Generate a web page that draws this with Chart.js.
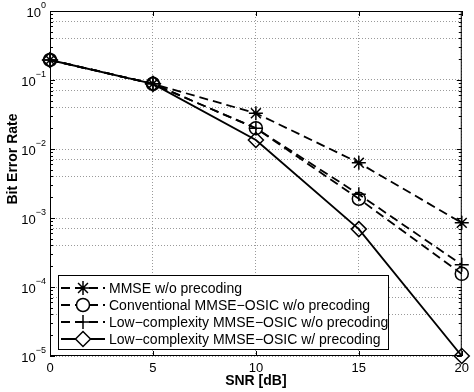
<!DOCTYPE html>
<html>
<head>
<meta charset="utf-8">
<script src="https://cdn.jsdelivr.net/npm/chart.js@4"></script>
<style>
  html, body { margin: 0; padding: 0; background: #fff; }
  #wrap { width: 474px; height: 392px; }
</style>
</head>
<body>
<div id="wrap"><canvas id="ber" width="474" height="392"></canvas></div>
<script>
// data (BER vs SNR)
const snr = [0, 5, 10, 15, 20];
const berMmse = [0.195, 0.088, 0.033, 0.0063, 0.00085];
const berConv = [0.195, 0.088, 0.020, 0.0019, 0.000155];
const berLowNoPre = [0.195, 0.088, 0.020, 0.0022, 0.00021];
const berLowPre = [0.195, 0.088, 0.0135, 0.00069, 0.00001];
const seriesNames = [
  "MMSE w/o precoding",
  "Conventional MMSE\u2212OSIC w/o precoding",
  "Low\u2212complexity MMSE\u2212OSIC w/o precoding",
  "Low\u2212complexity MMSE\u2212OSIC w/ precoding"
];
const xTicks = [0, 5, 10, 15, 20];
const yDecades = [-5, -4, -3, -2, -1, 0];

const FONT = "'Liberation Sans', Arial, sans-serif";
const DASH = [9, 5];

function pts(ys) {
  return snr.map((x, i) => ({ x: x, y: ys[i] }));
}

function series(label, ys, style, radius, dashed) {
  return {
    label: label,
    data: pts(ys),
    borderColor: "#000",
    borderWidth: dashed ? 1.8 : 1.9,
    borderDash: dashed ? DASH : [],
    pointStyle: style,
    pointRadius: radius,
    pointBorderWidth: 1.5,
    pointBorderColor: "#000",
    pointBackgroundColor: "rgba(0,0,0,0)",
    backgroundColor: "rgba(0,0,0,0)",
    tension: 0,
    clip: false
  };
}

// all minor + major log ticks (1..9 x 10^k)
function logTickList() {
  const out = [];
  for (let d = yDecades[0]; d < yDecades[yDecades.length - 1]; d++) {
    for (let m = 1; m < 10; m++) out.push({ value: m * Math.pow(10, d) });
  }
  out.push({ value: Math.pow(10, yDecades[yDecades.length - 1]) });
  return out;
}

// frame, inward ticks, y labels with exponents, y title, legend
const matlabLook = {
  id: "matlabLook",
  afterDraw(chart) {
    const ctx = chart.ctx;
    const a = chart.chartArea;
    const xs = chart.scales.x, ys = chart.scales.y;
    ctx.save();

    // box
    ctx.strokeStyle = "#000";
    ctx.lineWidth = 1;
    ctx.setLineDash([]);
    ctx.strokeRect(a.left + 0.5, a.top + 0.5, a.right - a.left - 1, a.bottom - a.top - 1);

    // inward ticks
    ctx.beginPath();
    xTicks.forEach(v => {
      const px = Math.round(xs.getPixelForValue(v)) + 0.5;
      ctx.moveTo(px, a.bottom); ctx.lineTo(px, a.bottom - 5);
      ctx.moveTo(px, a.top); ctx.lineTo(px, a.top + 5);
    });
    logTickList().forEach(t => {
      const py = Math.round(ys.getPixelForValue(t.value)) + 0.5;
      const major = Math.abs(Math.log10(t.value) - Math.round(Math.log10(t.value))) < 1e-9;
      const len = major ? 5 : 3;
      ctx.moveTo(a.left, py); ctx.lineTo(a.left + len, py);
      ctx.moveTo(a.right, py); ctx.lineTo(a.right - len, py);
    });
    ctx.stroke();

    // y tick labels 10^k
    ctx.fillStyle = "#000";
    ctx.textBaseline = "alphabetic";
    yDecades.forEach(d => {
      const py = ys.getPixelForValue(Math.pow(10, d));
      const ex = d === 0 ? "0" : "\u2212" + Math.abs(d);
      ctx.font = "9px " + FONT;
      const ew = ctx.measureText(ex).width;
      ctx.font = "13px " + FONT;
      const bw = ctx.measureText("10").width;
      const right = a.left - 4;
      ctx.textAlign = "left";
      ctx.fillText("10", right - ew - bw, py + 6);
      ctx.font = "9px " + FONT;
      ctx.fillText(ex, right - ew, py - 3);
    });

    // y title
    ctx.save();
    ctx.translate(13, 159);
    ctx.rotate(-Math.PI / 2);
    ctx.font = "bold 14px " + FONT;
    ctx.textAlign = "center";
    ctx.textBaseline = "middle";
    ctx.fillText("Bit Error Rate", 0, 0);
    ctx.restore();

    // legend box, lower left of the axes
    const bx = a.left + 8, by = a.bottom - 81, bw2 = 330, bh = 74;
    ctx.fillStyle = "#fff";
    ctx.fillRect(bx, by, bw2, bh);
    ctx.strokeStyle = "#000";
    ctx.lineWidth = 1;
    ctx.strokeRect(bx + 0.5, by + 0.5, bw2, bh);
    chart.data.datasets.forEach((ds, i) => {
      const ry = by + 13 + i * 17;
      ctx.strokeStyle = "#000";
      ctx.lineWidth = ds.borderWidth;
      ctx.setLineDash(ds.borderDash);
      ctx.beginPath();
      ctx.moveTo(bx + 3, ry); ctx.lineTo(bx + 47, ry);
      ctx.stroke();
      ctx.setLineDash([]);
      ctx.lineWidth = ds.pointBorderWidth;
      ctx.fillStyle = "#fff";
      Chart.helpers.drawPoint(ctx, {
        pointStyle: ds.pointStyle,
        radius: ds.pointRadius,
        rotation: 0,
        borderWidth: ds.pointBorderWidth
      }, bx + 25, ry);
      ctx.fillStyle = "#000";
      ctx.font = "14px " + FONT;
      ctx.textAlign = "left";
      ctx.textBaseline = "middle";
      ctx.fillText(ds.label, bx + 51, ry + 1);
    });
    ctx.restore();
  }
};

new Chart(document.getElementById("ber"), {
  type: "line",
  data: {
    datasets: [
      series(seriesNames[0], berMmse, "star", 7, true),
      series(seriesNames[1], berConv, "circle", 6.5, true),
      series(seriesNames[2], berLowNoPre, "cross", 7, true),
      series(seriesNames[3], berLowPre, "rectRot", 7.5, false)
    ]
  },
  options: {
    responsive: false,
    animation: false,
    devicePixelRatio: 1,
    layout: { padding: { top: 11, right: 8, left: 0, bottom: 0 } },
    plugins: { legend: { display: false }, tooltip: { enabled: false } },
    scales: {
      x: {
        type: "linear",
        min: 0, max: 20,
        afterBuildTicks: s => { s.ticks = xTicks.map(v => ({ value: v })); },
        afterFit: s => { s.height = 36; },
        ticks: { color: "#000", font: { family: FONT, size: 13 }, padding: 5 },
        grid: { color: "#9a9a9a", lineWidth: 1, drawTicks: false },
        border: { display: false, dash: [1, 2] },
        title: {
          display: true, text: "SNR [dB]", color: "#000",
          font: { family: FONT, size: 14, weight: "bold" },
          padding: { top: 0, bottom: 2 }
        }
      },
      y: {
        type: "logarithmic",
        min: 1e-5, max: 1,
        afterBuildTicks: s => { s.ticks = logTickList(); },
        afterFit: s => { s.width = 50; },
        ticks: { callback: () => "", padding: 0 },
        grid: { color: "#9a9a9a", lineWidth: 1, drawTicks: false },
        border: { display: false, dash: [1, 2] }
      }
    }
  },
  plugins: [matlabLook]
});
</script>
</body>
</html>
